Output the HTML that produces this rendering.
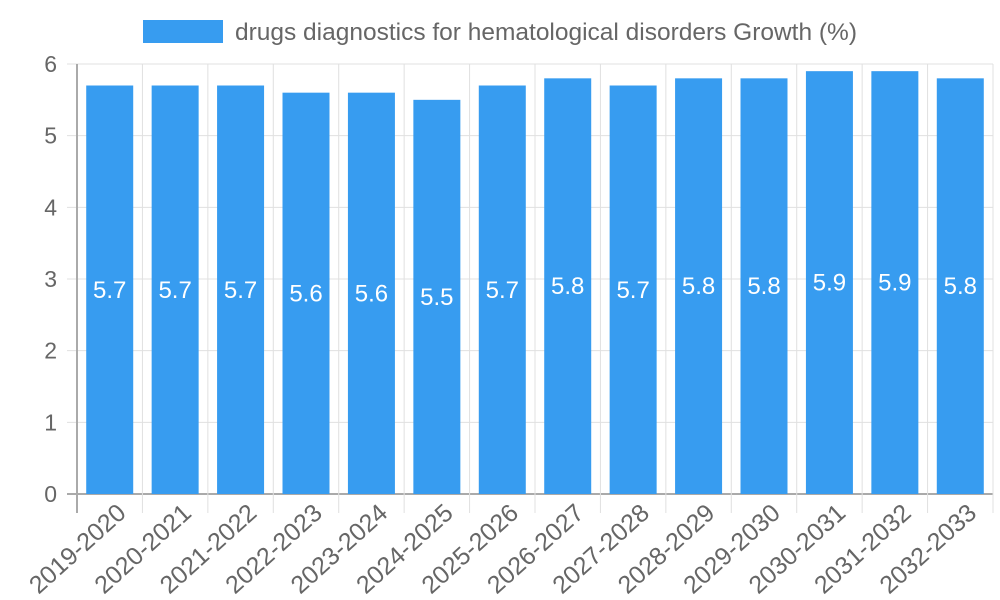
<!DOCTYPE html>
<html><head><meta charset="utf-8"><style>body{margin:0;background:#fff}svg{display:block}text{font-family:"Liberation Sans",sans-serif}</style></head>
<body>
<svg id="chart" width="1000" height="600" viewBox="0 0 1000 600" xmlns="http://www.w3.org/2000/svg">
<rect x="143" y="20" width="80" height="23" fill="#379cf0"/>
<text x="235" y="40" font-size="24" fill="#666" textLength="622" lengthAdjust="spacingAndGlyphs">drugs diagnostics for hematological disorders Growth (%)</text>
<g id="grid"></g><g id="bars"></g><g id="labels"></g>
</svg>
<script>
const categories=["2019-2020","2020-2021","2021-2022","2022-2023","2023-2024","2024-2025","2025-2026","2026-2027","2027-2028","2028-2029","2029-2030","2030-2031","2031-2032","2032-2033"];
const values=[5.7,5.7,5.7,5.6,5.6,5.5,5.7,5.8,5.7,5.8,5.8,5.9,5.9,5.8];
const yTicks=[0,1,2,3,4,5,6];
const NS="http://www.w3.org/2000/svg";
const L=77,R=993,T=64,B=494,yMax=6;
const step=(R-L)/categories.length;
const y=v=>B-(B-T)*v/yMax;
const x=i=>L+step*i;
function mk(tag,attrs,parent,text){const e=document.createElementNS(NS,tag);for(const k in attrs)e.setAttribute(k,attrs[k]);if(text!==undefined)e.textContent=text;document.querySelector(parent).appendChild(e);return e;}
yTicks.forEach(t=>{
  const g=mk('line',{x1:L-10,x2:R,y1:y(t),y2:y(t),stroke:t===0?'#aaa':'#e0e0e0','stroke-width':t===0?2:1},'#grid');
  
  
  const tl=mk('text',{x:L-20,y:y(t)+8,'text-anchor':'end','font-size':23,fill:'#666'},'#labels',String(t));
  
  
});
for(let i=0;i<=categories.length;i++){
  const g=mk('line',{x1:x(i),x2:x(i),y1:T,y2:B+19,stroke:i===0?'#aaa':'#e0e0e0','stroke-width':i===0?2:1},'#grid');
  
  
}
categories.forEach((c,i)=>{
  const cx=x(i)+step/2,bw=47;
  const b=mk('rect',{x:cx-bw/2,y:y(values[i]),width:bw,height:B-y(values[i]),fill:'#379cf0'},'#bars');
  
  
  const v=mk('text',{x:cx,y:(y(values[i])+B)/2+8,'text-anchor':'middle','font-size':24,fill:'#fff'},'#labels',values[i].toFixed(1));
  
  
  const lx=cx+6,ly=B+8;
  const t=mk('text',{x:lx,y:ly,'text-anchor':'end','font-size':25,fill:'#666',transform:`rotate(-42 ${lx} ${ly})`,dy:'0.7em'},'#labels',c);
  
  
});
</script>
</body></html>
